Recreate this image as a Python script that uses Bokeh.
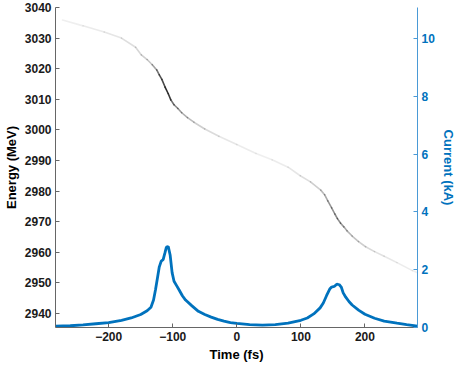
import numpy as np
from bokeh.plotting import figure
from bokeh.models import Range1d, LinearAxis, FixedTicker, ColumnDataSource
from bokeh.embed import file_html
from bokeh.resources import INLINE

# Current profile (kA) vs time (fs)
cur_t = [-283, -260, -240, -220, -200, -180, -165, -150, -140, -134, -130, -127, -124,
         -121, -118, -115, -112, -110, -107, -104, -101, -98, -94, -90, -85, -80, -70,
         -60, -50, -40, -30, -20, -10, 0, 20, 40, 60, 80, 100, 110, 120, 130, 135, 140,
         145, 148, 152, 156, 160, 163, 166, 170, 175, 180, 190, 200, 215, 230, 250, 265, 282]
cur_kA = [0.05, 0.06, 0.09, 0.13, 0.17, 0.25, 0.33, 0.45, 0.58, 0.70, 0.95, 1.30, 1.70,
          2.10, 2.30, 2.35, 2.60, 2.78, 2.80, 2.50, 1.90, 1.60, 1.45, 1.30, 1.10, 0.95, 0.75,
          0.56, 0.45, 0.36, 0.28, 0.22, 0.17, 0.14, 0.10, 0.08, 0.10, 0.15, 0.25, 0.33, 0.47,
          0.68, 0.85, 1.10, 1.33, 1.40, 1.42, 1.50, 1.48, 1.40, 1.20, 1.05, 0.90, 0.78, 0.60,
          0.46, 0.32, 0.22, 0.15, 0.10, 0.05]

# Energy chirp (MeV) vs time (fs)
en_t = [-272, -240, -207, -180, -158, -149, -140, -132, -125, -121, -117, -112, -107,
        -103, -98, -92, -86, -77, -67, -50, -28, 0, 30, 55, 80, 99, 115, 131, 137, 142,
        148, 153, 157, 162, 167, 172, 180, 190, 201, 215, 230, 250, 274, 282]
en_MeV = [3035.9, 3034.0, 3032.0, 3030.0, 3027.0, 3024.5, 3023.0, 3021.3, 3019.6, 3018.0,
          3016.5, 3014.0, 3011.8, 3009.8, 3008.2, 3007.0, 3005.6, 3004.0, 3002.5, 3000.3,
          2997.9, 2995.2, 2992.3, 2990.2, 2987.8, 2985.0, 2983.0, 2980.3, 2978.8, 2976.8,
          2974.5, 2972.5, 2971.0, 2969.5, 2968.3, 2967.0, 2965.3, 2963.5, 2961.8, 2960.2,
          2958.7, 2956.6, 2954.0, 2953.3]

x_ticks = [-200, -100, 0, 100, 200]
e_ticks = [2940, 2950, 2960, 2970, 2980, 2990, 3000, 3010, 3020, 3030, 3040]
c_ticks = [0, 2, 4, 6, 8, 10]

FONT = "Liberation Sans"
BLUE = "#0072BD"

p = figure(width=458, height=364, output_backend="svg", toolbar_location=None,
           x_range=Range1d(-283, 282), y_range=Range1d(2935.4, 3040),
           min_border_left=10, min_border_right=10, min_border_top=7, min_border_bottom=2)
p.outline_line_color = None
p.grid.visible = False
p.extra_y_ranges = {"cur": Range1d(0, 11.08)}

# energy trace: segments darkened by local current density
et = np.array(en_t, dtype=float)
ee = np.array(en_MeV, dtype=float)
mid = 0.5 * (et[:-1] + et[1:])
dens = np.interp(mid, cur_t, cur_kA)
alpha = np.clip(0.05 + 0.32 * dens, 0, 0.95)
seg = ColumnDataSource(dict(x0=et[:-1], y0=ee[:-1], x1=et[1:], y1=ee[1:], a=alpha))
p.segment("x0", "y0", "x1", "y1", source=seg, line_color="#222222", line_alpha="a",
          line_width=1.6, line_cap="round")

p.line(cur_t, cur_kA, y_range_name="cur", line_color=BLUE, line_width=2.8)

for ax in (p.xaxis[0], p.yaxis[0]):
    ax.axis_line_color = "#666666"
    ax.major_tick_line_color = "#666666"
    ax.major_label_text_color = "#1a1a1a"
    ax.axis_label_text_color = "#000000"

p.xaxis.ticker = FixedTicker(ticks=x_ticks)
p.yaxis.ticker = FixedTicker(ticks=e_ticks)
p.xaxis.axis_label = "Time (fs)"
p.yaxis.axis_label = "Energy (MeV)"

ra = LinearAxis(y_range_name="cur", ticker=FixedTicker(ticks=c_ticks), axis_label="Current (kA)")
ra.axis_line_color = "#4a9ad6"
ra.major_tick_line_color = "#4a9ad6"
ra.major_label_text_color = BLUE
ra.axis_label_text_color = BLUE
p.add_layout(ra, "right")

for ax in (p.xaxis[0], p.yaxis[0], ra):
    ax.major_tick_in = 4
    ax.major_tick_out = 0
    ax.minor_tick_line_color = None
    ax.major_label_text_font = FONT
    ax.major_label_text_font_style = "bold"
    ax.major_label_text_font_size = "12px"
    ax.axis_label_text_font = FONT
    ax.axis_label_text_font_style = "bold"
    ax.axis_label_text_font_size = "13px"
    ax.major_label_standoff = 4
    ax.axis_label_standoff = 3

open("out.html", "w").write(file_html(p, INLINE))
